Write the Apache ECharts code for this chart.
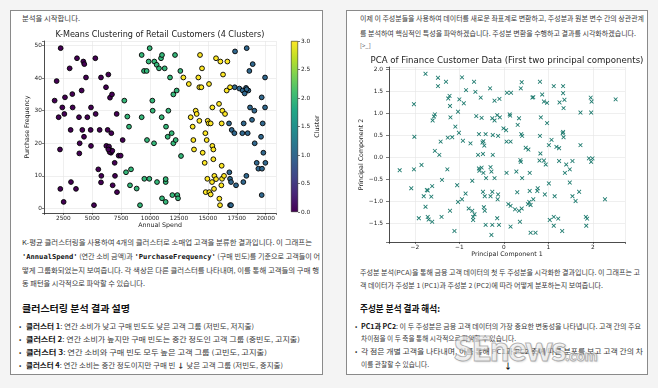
<!DOCTYPE html>
<html><head><meta charset="utf-8">
<script src="https://cdn.jsdelivr.net/npm/echarts@6/dist/echarts.min.js"></script>
<style>
html,body{margin:0;padding:0;background:#f4f4f4;width:658px;height:388px;overflow:hidden;}
.panel{position:absolute;background:#fff;border:1.5px solid #8a8a8a;box-sizing:border-box;}
.t{position:absolute;white-space:nowrap;font-family:"Noto Sans CJK KR","Noto Sans",sans-serif;color:#3a3a3a;line-height:1;transform-origin:0 50%;}
.t b{color:#111;}
.code{font-family:"DejaVu Sans Mono",monospace;font-weight:bold;color:#111;}
#chart{position:absolute;left:0;top:0;width:658px;height:388px;}
</style></head><body>
<div class="panel" style="left:10px;top:10px;width:313px;height:365px"></div>
<div class="panel" style="left:346px;top:10px;width:302px;height:365px"></div>

<div class="t" data-w="58" style="left:22px;top:14.6px;font-size:6.8px">분석을 시작합니다.</div>
<div class="t" data-w="290" style="left:22px;top:239.3px;font-size:6.8px">K-평균 클러스터링을 사용하여 4개의 클러스터로 소매업 고객을 분류한 결과입니다. 이 그래프는</div>
<div class="t" data-w="298" style="left:22px;top:253.3px;font-size:6.8px"><span class="code">'AnnualSpend'</span> (연간 소비 금액)과 <span class="code">'PurchaseFrequency'</span> (구매 빈도)를 기준으로 고객들이 어</div>
<div class="t" data-w="297" style="left:22px;top:266.6px;font-size:6.8px">떻게 그룹화되었는지 보여줍니다. 각 색상은 다른 클러스터를 나타내며, 이를 통해 고객들의 구매 행</div>
<div class="t" data-w="123" style="left:22px;top:279.9px;font-size:6.8px">동 패턴을 시각적으로 파악할 수 있습니다.</div>
<div class="t" data-w="108" style="left:22px;top:303.8px;font-size:9px;font-weight:bold;color:#111">클러스터링 분석 결과 설명</div>
<div class="t" style="left:19px;top:322.6px;font-size:6.8px;color:#111">•</div>
<div class="t" data-w="228" style="left:26px;top:322.6px;font-size:6.8px"><b>클러스터 1</b>: 연간 소비가 낮고 구매 빈도도 낮은 고객 그룹 (저빈도, 저지출)</div>
<div class="t" style="left:19px;top:335.6px;font-size:6.8px;color:#111">•</div>
<div class="t" data-w="274" style="left:26px;top:335.6px;font-size:6.8px"><b>클러스터 2</b>: 연간 소비가 높지만 구매 빈도는 중간 정도인 고객 그룹 (중빈도, 고지출)</div>
<div class="t" style="left:19px;top:348.9px;font-size:6.8px;color:#111">•</div>
<div class="t" data-w="241" style="left:26px;top:348.9px;font-size:6.8px"><b>클러스터 3</b>: 연간 소비와 구매 빈도 모두 높은 고객 그룹 (고빈도, 고지출)</div>
<div class="t" style="left:19px;top:362.3px;font-size:6.8px;color:#111">•</div>
<div class="t" data-w="257" style="left:26px;top:362.3px;font-size:6.8px"><b>클러스터 4</b>: 연간 소비는 중간 정도이지만 구매 빈 <b>↓</b> 낮은 고객 그룹 (저빈도, 중지출)</div>

<div class="t" data-w="284" style="left:360px;top:14.6px;font-size:6.8px">이제 이 주성분들을 사용하여 데이터를 새로운 좌표계로 변환하고, 주성분과 원본 변수 간의 상관관계</div>
<div class="t" data-w="276" style="left:360px;top:29.6px;font-size:6.8px">를 분석하여 핵심적인 특성을 파악하겠습니다. 주성분 변환을 수행하고 결과를 시각화하겠습니다.</div>
<div class="t" style="left:360px;top:43px;font-size:6px;color:#555">[&gt;_]</div>
<div class="t" data-w="280" style="left:360px;top:269.3px;font-size:6.8px">주성분 분석(PCA)을 통해 금융 고객 데이터의 첫 두 주성분을 시각화한 결과입니다. 이 그래프는 고</div>
<div class="t" data-w="243" style="left:360px;top:281.6px;font-size:6.8px">객 데이터가 주성분 1 (PC1)과 주성분 2 (PC2)에 따라 어떻게 분포하는지 보여줍니다.</div>
<div class="t" data-w="80" style="left:360px;top:303.8px;font-size:9px;font-weight:bold;color:#111">주성분 분석 결과 해석:</div>
<div class="t" style="left:355px;top:322.6px;font-size:6.8px;color:#111">•</div>
<div class="t" data-w="280" style="left:361px;top:322.6px;font-size:6.8px"><b>PC1과 PC2</b>: 이 두 주성분은 금융 고객 데이터의 가장 중요한 변동성을 나타냅니다. 고객 간의 주요</div>
<div class="t" data-w="155" style="left:361px;top:334.9px;font-size:6.8px">차이점을 이 두 축을 통해 시각적으로 파악할 수 있습니다.</div>
<div class="t" style="left:355px;top:348.3px;font-size:6.8px;color:#111">•</div>
<div class="t" data-w="282" style="left:361px;top:348.3px;font-size:6.8px">각 점은 개별 고객을 나타내며, 이를 통해 PC1과 PC2 축에 따른 분포를 보고 고객 간의 차</div>
<div class="t" data-w="68" style="left:361px;top:360.9px;font-size:6.8px">이를 관찰할 수 있습니다.</div>
<div class="t" style="left:504px;top:362px;font-size:8px;font-weight:bold;color:#111">↓</div>
<div style="position:absolute;left:454px;top:331px;font-family:Lato,sans-serif;font-weight:900;font-size:34px;line-height:1;color:rgba(255,255,255,0.6);-webkit-text-stroke:1px rgba(120,120,120,0.55);text-shadow:1px 1px 2px rgba(0,0,0,0.18);letter-spacing:-1px">SEnews<span style="font-size:15px;letter-spacing:0">.com</span></div>

<div id="chart"></div>
<script>
// ---- K-Means chart data: [Annual Spend, Purchase Frequency] ----
const cluster0 = [[2270,49.2],[3682,46.1],[4230,45.1],[4316,44.3],[5268,46.1],[3048,43.0],[1923,39.1],[4460,40.2],[5758,40.2],[6392,41.1],[6190,37.2],[1750,33.1],[2644,34.1],[3278,35.1],[4086,36.2],[2413,31.0],[3307,31.0],[2096,28.0],[2590,29.0],[3855,28.0],[4576,28.0],[4893,31.0],[5297,29.0],[7112,29.0],[6536,34.0],[6709,35.0],[3134,24.1],[4143,24.1],[4864,24.1],[5642,24.1],[6334,24.1],[6651,23.1],[4288,22.0],[3913,20.0],[3884,16.9],[2212,18.1],[4893,19.2],[6219,19.2],[6450,19.0],[6565,17.9],[6623,17.1],[6508,17.3],[6738,17.7],[6392,18.1],[7286,16.2],[7459,16.2],[7632,21.0],[6940,14.0],[5527,12.0],[5787,10.0],[5758,8.0],[6968,10.0],[6767,7.1],[7141,5.0],[3163,8.1],[3596,6.0],[2240,6.0],[2530,2.0],[5152,1.0]];
const cluster1 = [[17347,48.2],[18356,49.2],[18587,42.2],[18875,44.3],[19943,40.2],[17318,37.2],[17722,36.8],[18010,36.2],[18298,37.0],[18500,36.2],[18183,35.3],[18356,36.6],[19654,34.1],[19943,31.0],[18644,31.0],[19019,30.0],[18817,27.2],[18096,26.1],[16829,26.1],[17059,24.1],[17289,23.1],[17981,23.1],[18442,23.1],[19740,26.1],[19048,20.0],[19596,22.0],[19798,17.1],[19221,14.0],[19365,12.2],[19683,12.2],[19971,14.0],[16857,11.1],[16915,9.1],[17001,8.1],[17433,7.1],[18327,10.0],[18067,8.1],[16915,1.0],[17001,1.0],[19654,4.1]];
const cluster2 = [[9275,47.1],[9477,42.2],[9708,42.2],[9880,45.1],[9967,49.2],[10371,45.1],[10572,44.1],[10774,43.0],[10947,46.1],[11034,47.1],[11264,43.0],[12158,47.1],[11726,40.2],[12619,42.2],[10198,33.1],[10227,30.0],[9275,28.0],[11005,28.0],[11582,30.0],[11380,25.1],[11524,22.0],[12014,20.0],[12216,21.0],[12014,35.0],[12302,36.2],[9736,21.0],[10342,20.0],[8035,28.2],[8180,25.1],[7776,33.1],[7920,11.1],[8353,12.0],[8266,7.1],[8843,6.1],[9131,1.0],[9506,9.1],[9938,9.1],[10601,8.1],[11351,8.1],[11351,9.0],[11034,3.1],[11351,2.0],[11928,4.1],[12360,4.1],[12417,3.1],[12677,16.1],[11870,23.1]];
const cluster3 = [[14320,47.1],[14493,43.0],[12879,40.2],[14176,40.2],[14262,37.2],[14435,37.2],[15098,38.2],[13352,38.2],[15704,46.1],[16079,45.1],[16684,45.1],[16310,41.1],[16627,36.2],[16915,37.2],[15387,31.0],[15964,32.1],[16252,30.0],[16483,29.0],[16194,26.1],[13945,30.0],[14031,29.0],[13513,28.0],[14262,26.9],[14983,26.9],[15069,26.1],[15242,26.1],[13685,25.1],[14781,23.1],[13743,21.0],[14896,21.0],[13801,18.1],[15387,19.2],[15473,18.1],[14551,17.1],[14724,14.0],[15473,15.1],[15560,10.0],[15704,9.0],[14954,9.1],[15358,8.1],[16223,9.1],[16396,10.0],[16165,7.1],[15531,6.0],[14810,5.0],[15127,5.0],[15242,4.3],[15992,3.0],[16050,1.0],[16194,13.1]];
const clusterColors = ['#440154','#31688e','#35b779','#fde725'];
const colorbarTicks = [0, 0.5, 1, 1.5, 2, 2.5, 3];
// ---- PCA chart data: [PC1, PC2] ----
const pcaPoints = [[-1.76,1.89],[-1.48,1.80],[-0.94,1.81],[-1.30,1.71],[-0.67,1.71],[-1.48,1.61],[0.40,1.70],[0.81,1.71],[1.12,1.61],[1.33,1.61],
[-0.85,1.52],[-0.64,1.48],[-0.31,1.56],[0.38,1.56],[0.07,1.46],[0.16,1.46],[1.33,1.45],[0.86,1.42],
[-1.25,1.33],[-1.22,1.39],[-0.52,1.35],[-0.21,1.28],[-0.10,1.32],[0.64,1.35],[0.66,1.36],[0.90,1.26],[0.97,1.23],[1.25,1.24],[1.36,1.30],[1.95,1.35],[1.97,1.26],[2.51,1.31],
[-1.00,1.31],[-0.90,1.22],[-2.02,1.20],[-1.21,1.16],
[1.34,1.11],[1.72,1.01],[1.96,1.01],[-1.03,1.03],[-1.55,0.97],[-1.57,0.92],[-1.60,0.83],[-1.20,0.90],[-0.62,0.93],[-0.50,0.89],[-0.26,0.88],[-0.21,0.83],[-0.15,0.95],[-0.09,0.90],[0.13,0.97],[0.14,0.94],[0.34,0.88],[0.83,0.90],[0.97,0.77],[-1.09,0.69],[-0.01,0.65],[0.05,0.61],[0.31,0.73],[-1.01,0.55],
[-2.01,0.46],[-1.26,0.44],[-1.16,0.45],[-1.42,0.35],[-0.92,0.37],[-0.75,0.31],[-0.56,0.52],[-0.41,0.52],[-0.25,0.50],[-0.13,0.48],[-0.48,0.33],[-0.44,0.26],[-0.46,0.36],[0.06,0.35],[0.15,0.35],[0.39,0.52],[0.41,0.48],[0.81,0.48],[0.49,0.21],[0.55,0.17],[1.01,0.27],[1.07,0.39],[1.18,0.23],[1.24,0.20],[1.33,0.57],[1.34,0.45],[1.32,0.54],[1.72,0.27],
[-1.55,0.14],[-1.45,0.05],[-0.58,0.05],[-0.47,0.07],[-0.25,0.05],[0.82,0.08],[0.37,-0.07],[0.38,-0.11],[0.80,-0.08],[0.90,-0.08],[0.94,-0.17],[1.24,-0.09],[1.40,-0.17],[1.54,-0.09],[1.48,-0.28],[1.37,-0.36],[1.91,-0.03],[1.99,-0.03],[1.96,-0.11],
[-2.34,-0.30],[-2.02,-0.28],[-1.85,-0.18],[-1.27,-0.28],[-0.56,-0.26],[-0.50,-0.24],[-0.46,-0.36],[-0.55,-0.31],[-0.30,-0.23],[-0.28,-0.33],[0.06,-0.36],[0.28,-0.33],[0.41,-0.48],[0.58,-0.36],[-1.39,-0.52],[-0.71,-0.54],[-0.40,-0.48],[-0.21,-0.48],[1.01,-0.60],[1.48,-0.58],
[-2.08,-0.71],[-1.61,-0.66],[-1.71,-0.76],[-1.73,-0.75],[-1.05,-0.64],[-1.80,-0.89],[-1.63,-0.90],[-0.86,-0.83],[-1.03,-1.02],[-0.94,-0.96],[-0.47,-0.79],[-0.26,-0.79],[-0.43,-0.89],[-0.30,-0.89],[-0.13,-0.85],[-0.14,-0.96],[0.30,-0.80],[0.58,-0.77],[0.75,-0.77],[0.76,-0.71],[0.57,-1.02],[0.66,-0.96],[0.92,-0.85],[1.14,-0.89],[1.54,-0.89],[1.61,-1.00],[1.69,-0.79],[2.27,-0.96],
[-1.76,-1.13],[-1.21,-1.22],[-0.79,-1.17],[-0.71,-1.22],[-0.66,-1.30],[-0.69,-1.36],[-0.69,-1.43],[-0.45,-1.14],[-0.43,-1.22],[0.10,-1.07],[0.15,-1.11],[0.25,-1.19],[0.34,-1.22],[0.40,-1.17],[0.54,-1.07],[0.60,-1.09],[0.36,-1.47],[-0.15,-1.39],
[-1.91,-1.39],[-1.71,-1.36],[-1.69,-1.42],[-1.61,-1.47],[-1.40,-1.36],[1.12,-1.36],[1.22,-1.40],[1.03,-1.43],[1.84,-1.36],[1.87,-1.40],
[-0.41,-1.54],[-0.26,-1.54],[-0.11,-1.54],[0.15,-1.58],[1.12,-1.56],[1.85,-1.56],[-1.11,-1.68],[0.60,-1.72],[0.71,-1.72],[1.31,-1.68],[-0.28,-1.77]];

// fit text line widths
document.querySelectorAll('[data-w]').forEach(el => {
  const w = el.getBoundingClientRect().width;
  el.style.transform = 'scaleX(' + (+el.dataset.w / w) + ')';
});

const FONT = 'DejaVu Sans';
const minusFmt = s => s.replace('-', '\u2212');
function onStep(v, step) { return Math.abs(v / step - Math.round(v / step)) < 1e-6; }
function valAxis(gridIndex, min, max, step, fmt, extra) {
  return Object.assign({
    type: 'value', gridIndex, min, max, minInterval: step, maxInterval: step,
    splitNumber: Math.round((max - min) / step),
    axisLine: { show: true, onZero: false, lineStyle: { color: '#222', width: 0.8 } },
    axisTick: { show: true, length: 2, lineStyle: { color: '#222', width: 0.6 } },
    axisLabel: { fontSize: 5.8, color: '#222', margin: 2, fontFamily: FONT,
      formatter: v => onStep(v, step) ? fmt(v) : '' },
    splitLine: { show: true, lineStyle: { color: '#e4e4e4', width: 0.6 } },
    nameTextStyle: { fontSize: 6.3, color: '#222', fontFamily: FONT },
    nameLocation: 'middle'
  }, extra);
}
const viridisStops = ['#440154','#482475','#414487','#355f8d','#2a788e','#21918c','#22a884','#44bf70','#7ad151','#bddf26','#fde725'];
const xShape = 'path://M0,1.4L1.4,0L5,3.6L8.6,0L10,1.4L6.4,5L10,8.6L8.6,10L5,6.4L1.4,10L0,8.6L3.6,5Z';

const chart = echarts.init(document.getElementById('chart'), null, { renderer: 'canvas' });
const clusters = [cluster0, cluster1, cluster2, cluster3];
chart.setOption({
  animation: false,
  graphic: [
    { type: 'text', x: 160, y: 34.5, style: { text: 'K-Means Clustering of Retail Customers (4 Clusters)', fontSize: 8.1, fontFamily: FONT, fill: '#222', align: 'center', verticalAlign: 'middle' } },
    { type: 'text', x: 507, y: 61, style: { text: 'PCA of Finance Customer Data (First two principal components)', fontSize: 8.6, fontFamily: FONT, fill: '#222', align: 'center', verticalAlign: 'middle' } }
  ],
  grid: [
    { left: 44, top: 41, width: 232, height: 172 },
    { left: 291, top: 41, width: 7, height: 171 },
    { left: 389, top: 67, width: 236, height: 175 }
  ],
  xAxis: [
    valAxis(0, 830, 20890, 2500, v => String(v), { name: 'Annual Spend', nameGap: 9 }),
    { type: 'category', gridIndex: 1, data: ['c'], show: false },
    valAxis(2, -2.58, 2.72, 1, v => minusFmt(String(v)), { name: 'Principal Component 1', nameGap: 9 })
  ],
  yAxis: [
    valAxis(0, -1.4, 51.4, 10, v => String(v), { name: 'Purchase Frequency', nameGap: 11 }),
    { type: 'value', gridIndex: 1, position: 'right', min: 0, max: 3, interval: 0.5,
      axisLine: { show: false }, splitLine: { show: false },
      axisTick: { show: true, length: 2, lineStyle: { color: '#222', width: 0.6 } },
      axisLabel: { fontSize: 5.8, color: '#222', margin: 3, fontFamily: FONT, formatter: v => colorbarTicks.includes(v) ? v.toFixed(1) : '' },
      name: 'Cluster', nameLocation: 'middle', nameGap: 15, nameRotate: 90,
      nameTextStyle: { fontSize: 6.3, color: '#222', fontFamily: FONT } },
    valAxis(2, -1.93, 2.045, 0.5, v => minusFmt(v.toFixed(1)), { name: 'Principal Component 2', nameGap: 19,
      axisLabel: { fontSize: 5.9, color: '#222', margin: 6, fontFamily: FONT, formatter: v => onStep(v, 0.5) ? minusFmt(v.toFixed(1)) : '' },
      axisTick: { show: true, length: 3, lineStyle: { color: '#222', width: 0.6 } } })
  ],
  series: clusters.map((pts, i) => ({
    type: 'scatter', xAxisIndex: 0, yAxisIndex: 0, data: pts, symbolSize: 4.8,
    itemStyle: { color: clusterColors[i], borderColor: '#000', borderWidth: 0.9, opacity: 1 }
  })).concat([
    { type: 'bar', xAxisIndex: 1, yAxisIndex: 1, data: [3], barWidth: '100%',
      itemStyle: { borderColor: '#000', borderWidth: 0.5,
        color: new echarts.graphic.LinearGradient(0, 1, 0, 0, viridisStops.map((c, k) => ({ offset: k / 10, color: c }))) } },
    { type: 'scatter', xAxisIndex: 2, yAxisIndex: 2, data: pcaPoints, symbol: xShape, symbolSize: 4.4,
      itemStyle: { color: '#1d7a6e', opacity: 1 } }
  ])
});
</script>
</body></html>
